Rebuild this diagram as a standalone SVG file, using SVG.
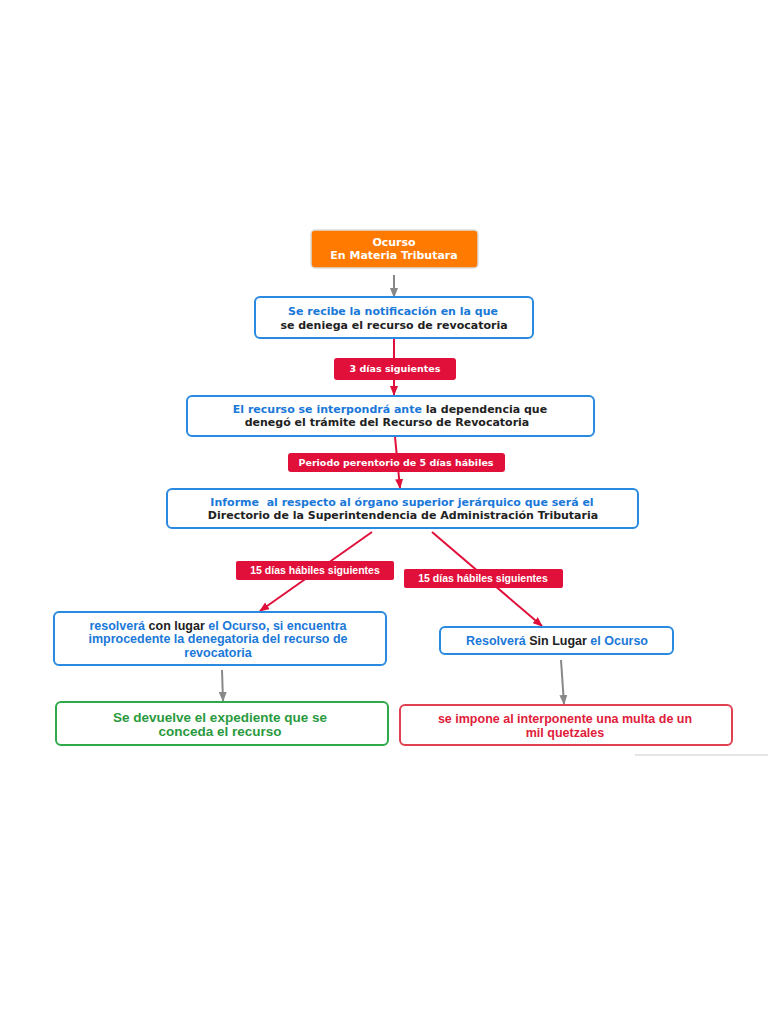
<svg xmlns="http://www.w3.org/2000/svg" width="768" height="1024" viewBox="0 0 768 1024">
<style>
text{font-family:"DejaVu Sans",Verdana,sans-serif;font-weight:bold;font-size:11px;text-anchor:middle}
.b{fill:#fff;stroke:#2a8ae0;stroke-width:2}
.bl{fill:#1a78d8}.k{fill:#222}
.lab{fill:#e0103a}
.lt{fill:#fff;font-size:9.5px}
.c{font-family:"Liberation Sans",Arial,sans-serif;font-size:12.5px}
.g{stroke:#888;stroke-width:2;fill:none}
.r{stroke:#e0103a;stroke-width:2;fill:none}
</style>
<defs>
<marker id="ag" markerWidth="10" markerHeight="8" refX="9" refY="4" orient="auto" markerUnits="userSpaceOnUse"><path d="M0,0L10,4L0,8z" fill="#888"/></marker>
<marker id="ar" markerWidth="10" markerHeight="8" refX="9" refY="4" orient="auto" markerUnits="userSpaceOnUse"><path d="M0,0L10,4L0,8z" fill="#e0103a"/></marker>
</defs>
<rect width="768" height="1024" fill="#fff"/>
<g id="connectors">
<line class="g" x1="394" y1="275" x2="394" y2="297" marker-end="url(#ag)"/>
<line class="r" x1="394" y1="338" x2="394" y2="395" marker-end="url(#ar)"/>
<line class="r" x1="395" y1="437" x2="400" y2="488" marker-end="url(#ar)"/>
<line class="r" x1="372" y1="532" x2="260" y2="611" marker-end="url(#ar)"/>
<line class="r" x1="432" y1="532" x2="542" y2="626" marker-end="url(#ar)"/>
<line class="g" x1="222" y1="670" x2="223" y2="701" marker-end="url(#ag)"/>
<line class="g" x1="561" y1="660" x2="564" y2="704" marker-end="url(#ag)"/>
<rect class="lab" x="334" y="358" width="122" height="22" rx="3"/><text class="lt" x="395" y="372">3 días siguientes</text>
<rect class="lab" x="288" y="453" width="217" height="19" rx="3"/><text class="lt" x="396" y="466">Periodo perentorio de 5 días hábiles</text>
<rect class="lab" x="236" y="561" width="158" height="19" rx="2"/><text class="lt c" style="font-size:10.5px" x="315" y="574">15 días hábiles siguientes</text>
<rect class="lab" x="404" y="569" width="159" height="19" rx="2"/><text class="lt c" style="font-size:10.5px" x="483" y="582">15 días hábiles siguientes</text>
</g>
<g id="n1"><rect x="311" y="230" width="167" height="38" rx="4" fill="#ff7a00" stroke="#ddd" stroke-width="1.5"/><text x="394" y="246" fill="#fff">Ocurso</text><text x="394" y="259" fill="#fff">En Materia Tributara</text></g>
<g id="n2"><rect class="b" x="255" y="297" width="278" height="41" rx="5"/><text class="bl" x="393" y="315">Se recibe la notificación en la que</text><text class="k" x="394" y="329">se deniega el recurso de revocatoria</text></g>
<g id="n3"><rect class="b" x="187" y="396" width="407" height="40" rx="5"/><text x="390" y="413"><tspan class="bl">El recurso se interpondrá ante </tspan><tspan class="k">la dependencia que</tspan></text><text class="k" x="387" y="426">denegó el trámite del Recurso de Revocatoria</text></g>
<g id="n4"><rect class="b" x="167" y="489" width="471" height="39" rx="5"/><text class="bl" x="402" y="506" xml:space="preserve">Informe  al respecto al órgano superior jerárquico que será el</text><text class="k" x="403" y="519">Directorio de la Superintendencia de Administración Tributaria</text></g>
<g id="n5"><rect class="b" x="54" y="612" width="332" height="53" rx="5"/><text class="c" x="218" y="630"><tspan class="bl">resolverá </tspan><tspan class="k">con lugar </tspan><tspan class="bl">el Ocurso, si encuentra</tspan></text><text class="c bl" x="218" y="643">improcedente la denegatoria del recurso de</text><text class="c bl" x="218" y="657">revocatoria</text></g>
<g id="n6"><rect class="b" x="440" y="627" width="233" height="27" rx="5"/><text class="c" x="557" y="645"><tspan class="bl">Resolverá </tspan><tspan class="k">Sin Lugar </tspan><tspan class="bl">el Ocurso</tspan></text></g>
<g id="n7"><rect x="56" y="702" width="332" height="43" rx="5" fill="#fff" stroke="#2eaa4a" stroke-width="2"/><text class="c" fill="#2a9a3e" x="220" y="722" style="font-size:13.5px">Se devuelve el expediente que se</text><text class="c" fill="#2a9a3e" x="220" y="736" style="font-size:13.5px">conceda el recurso</text></g>
<g id="n8"><rect x="400" y="705" width="332" height="40" rx="5" fill="#fff" stroke="#e04050" stroke-width="2"/><text class="c" fill="#e0203a" x="565" y="723">se impone al interponente una multa de un</text><text class="c" fill="#e0203a" x="565" y="737">mil quetzales</text></g>
<line x1="635" y1="755" x2="768" y2="755" stroke="#ddd" stroke-width="1.5"/>
</svg>
